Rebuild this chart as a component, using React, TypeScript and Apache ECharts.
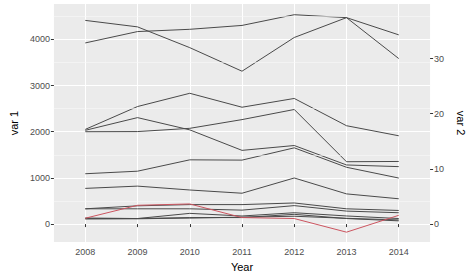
import React, { useEffect, useRef } from "react";
import * as echarts from "echarts";

const years = [2008, 2009, 2010, 2011, 2012, 2013, 2014];
const seriesA = [4410, 4270, 3820, 3310, 4040, 4470, 3584];
const seriesB = [3922, 4168, 4217, 4301, 4533, 4470, 4097];
const seriesC = [2050, 2545, 2832, 2530, 2720, 2130, 1912];
const seriesD = [2030, 2305, 2040, 1596, 1701, 1280, 1244];
const seriesE = [2000, 2003, 2073, 2262, 2481, 1350, 1356];
const seriesF = [1090, 1145, 1391, 1385, 1651, 1230, 997];
const seriesG = [773, 822, 738, 668, 998, 654, 548];
const seriesH = [331, 395, 422, 422, 457, 331, 295];
const seriesI = [331, 331, 331, 302, 400, 281, 246];
const seriesJ = [127, 120, 232, 175, 246, 176, 120];
const seriesK = [127, 120, 141, 141, 211, 120, 70];
const seriesL = [110, 115, 130, 150, 170, 125, 90];
const seriesRed = [127, 407, 436, 141, 120, -175, 190];

const greySeries = [seriesA, seriesB, seriesC, seriesD, seriesE, seriesF, seriesG, seriesH, seriesI, seriesJ, seriesK, seriesL];

const leftTicks = [0, 1000, 2000, 3000, 4000];
const leftMinor = [500, 1500, 2500, 3500, 4500];
const rightTicks = [0, 10, 20, 30];
const ratio = 119.5;
const yMin = -390;
const yMax = 4765;

export default function App() {
  const ref = useRef<HTMLDivElement>(null);
  useEffect(() => {
    const chart = echarts.init(ref.current!, null, { renderer: "svg" });
    const toPairs = (arr: number[]) => arr.map((v, i) => [years[i], v]);
    const lines: any[] = [
      {
        type: "line",
        data: [],
        z: 1,
        silent: true,
        markLine: {
          silent: true,
          symbol: "none",
          label: { show: false },
          lineStyle: { color: "#f8f8f8", width: 0.6, type: "solid" },
          data: leftMinor.map((v) => ({ yAxis: v })),
        },
      },
    ];
    greySeries.forEach((s) =>
      lines.push({
        type: "line",
        data: toPairs(s),
        symbol: "none",
        yAxisIndex: 0,
        lineStyle: { color: "#4a4a4a", width: 1 },
      })
    );
    lines.push({
      type: "line",
      data: toPairs(seriesRed),
      symbol: "none",
      yAxisIndex: 0,
      lineStyle: { color: "#cc5560", width: 1 },
    });
    const labelStyle = { color: "#4d4d4d", fontSize: 9, fontFamily: "Liberation Sans" };
    const nameStyle = { color: "#000", fontSize: 11, fontFamily: "Liberation Sans" };
    const plain = (v: number) => String(Math.round(v));
    chart.setOption({
      animation: false,
      grid: {
        left: 39,
        right: 31,
        top: 4,
        bottom: 29,
        show: true,
        backgroundColor: "#ebebeb",
        borderWidth: 0,
      },
      xAxis: {
        type: "value",
        min: 2007.4,
        max: 2014.6,
        name: "Year",
        nameLocation: "middle",
        nameGap: 13,
        nameTextStyle: nameStyle,
        axisLine: { show: false },
        axisTick: { show: true, length: 3, lineStyle: { color: "#333" }, customValues: years },
        axisLabel: { ...labelStyle, margin: 5, customValues: years, formatter: plain },
        splitLine: { show: true, lineStyle: { color: "#fff", width: 1 } },
      },
      yAxis: [
        {
          type: "value",
          position: "left",
          min: yMin,
          max: yMax,
          name: "var 1",
          nameLocation: "middle",
          nameGap: 22,
          nameTextStyle: nameStyle,
          axisLine: { show: false },
          axisTick: { show: true, length: 3, lineStyle: { color: "#333" }, customValues: leftTicks },
          axisLabel: { ...labelStyle, margin: 4, customValues: leftTicks, formatter: plain },
          splitLine: { show: true, lineStyle: { color: "#fff", width: 1 } },
        },
        {
          type: "value",
          position: "right",
          min: yMin / ratio,
          max: yMax / ratio,
          name: "var 2",
          nameLocation: "middle",
          nameGap: 14,
          nameRotate: -90,
          nameTextStyle: nameStyle,
          axisLine: { show: false },
          axisTick: { show: true, length: 3, lineStyle: { color: "#333" }, customValues: rightTicks },
          axisLabel: { ...labelStyle, margin: 4, customValues: rightTicks, formatter: plain },
          splitLine: { show: false },
        },
      ],
      series: lines,
    });
    return () => chart.dispose();
  }, []);
  return (
    <div
      ref={ref}
      style={{ position: "fixed", left: 0, top: 0, width: 474, height: 277, background: "#fff" }}
    />
  );
}
